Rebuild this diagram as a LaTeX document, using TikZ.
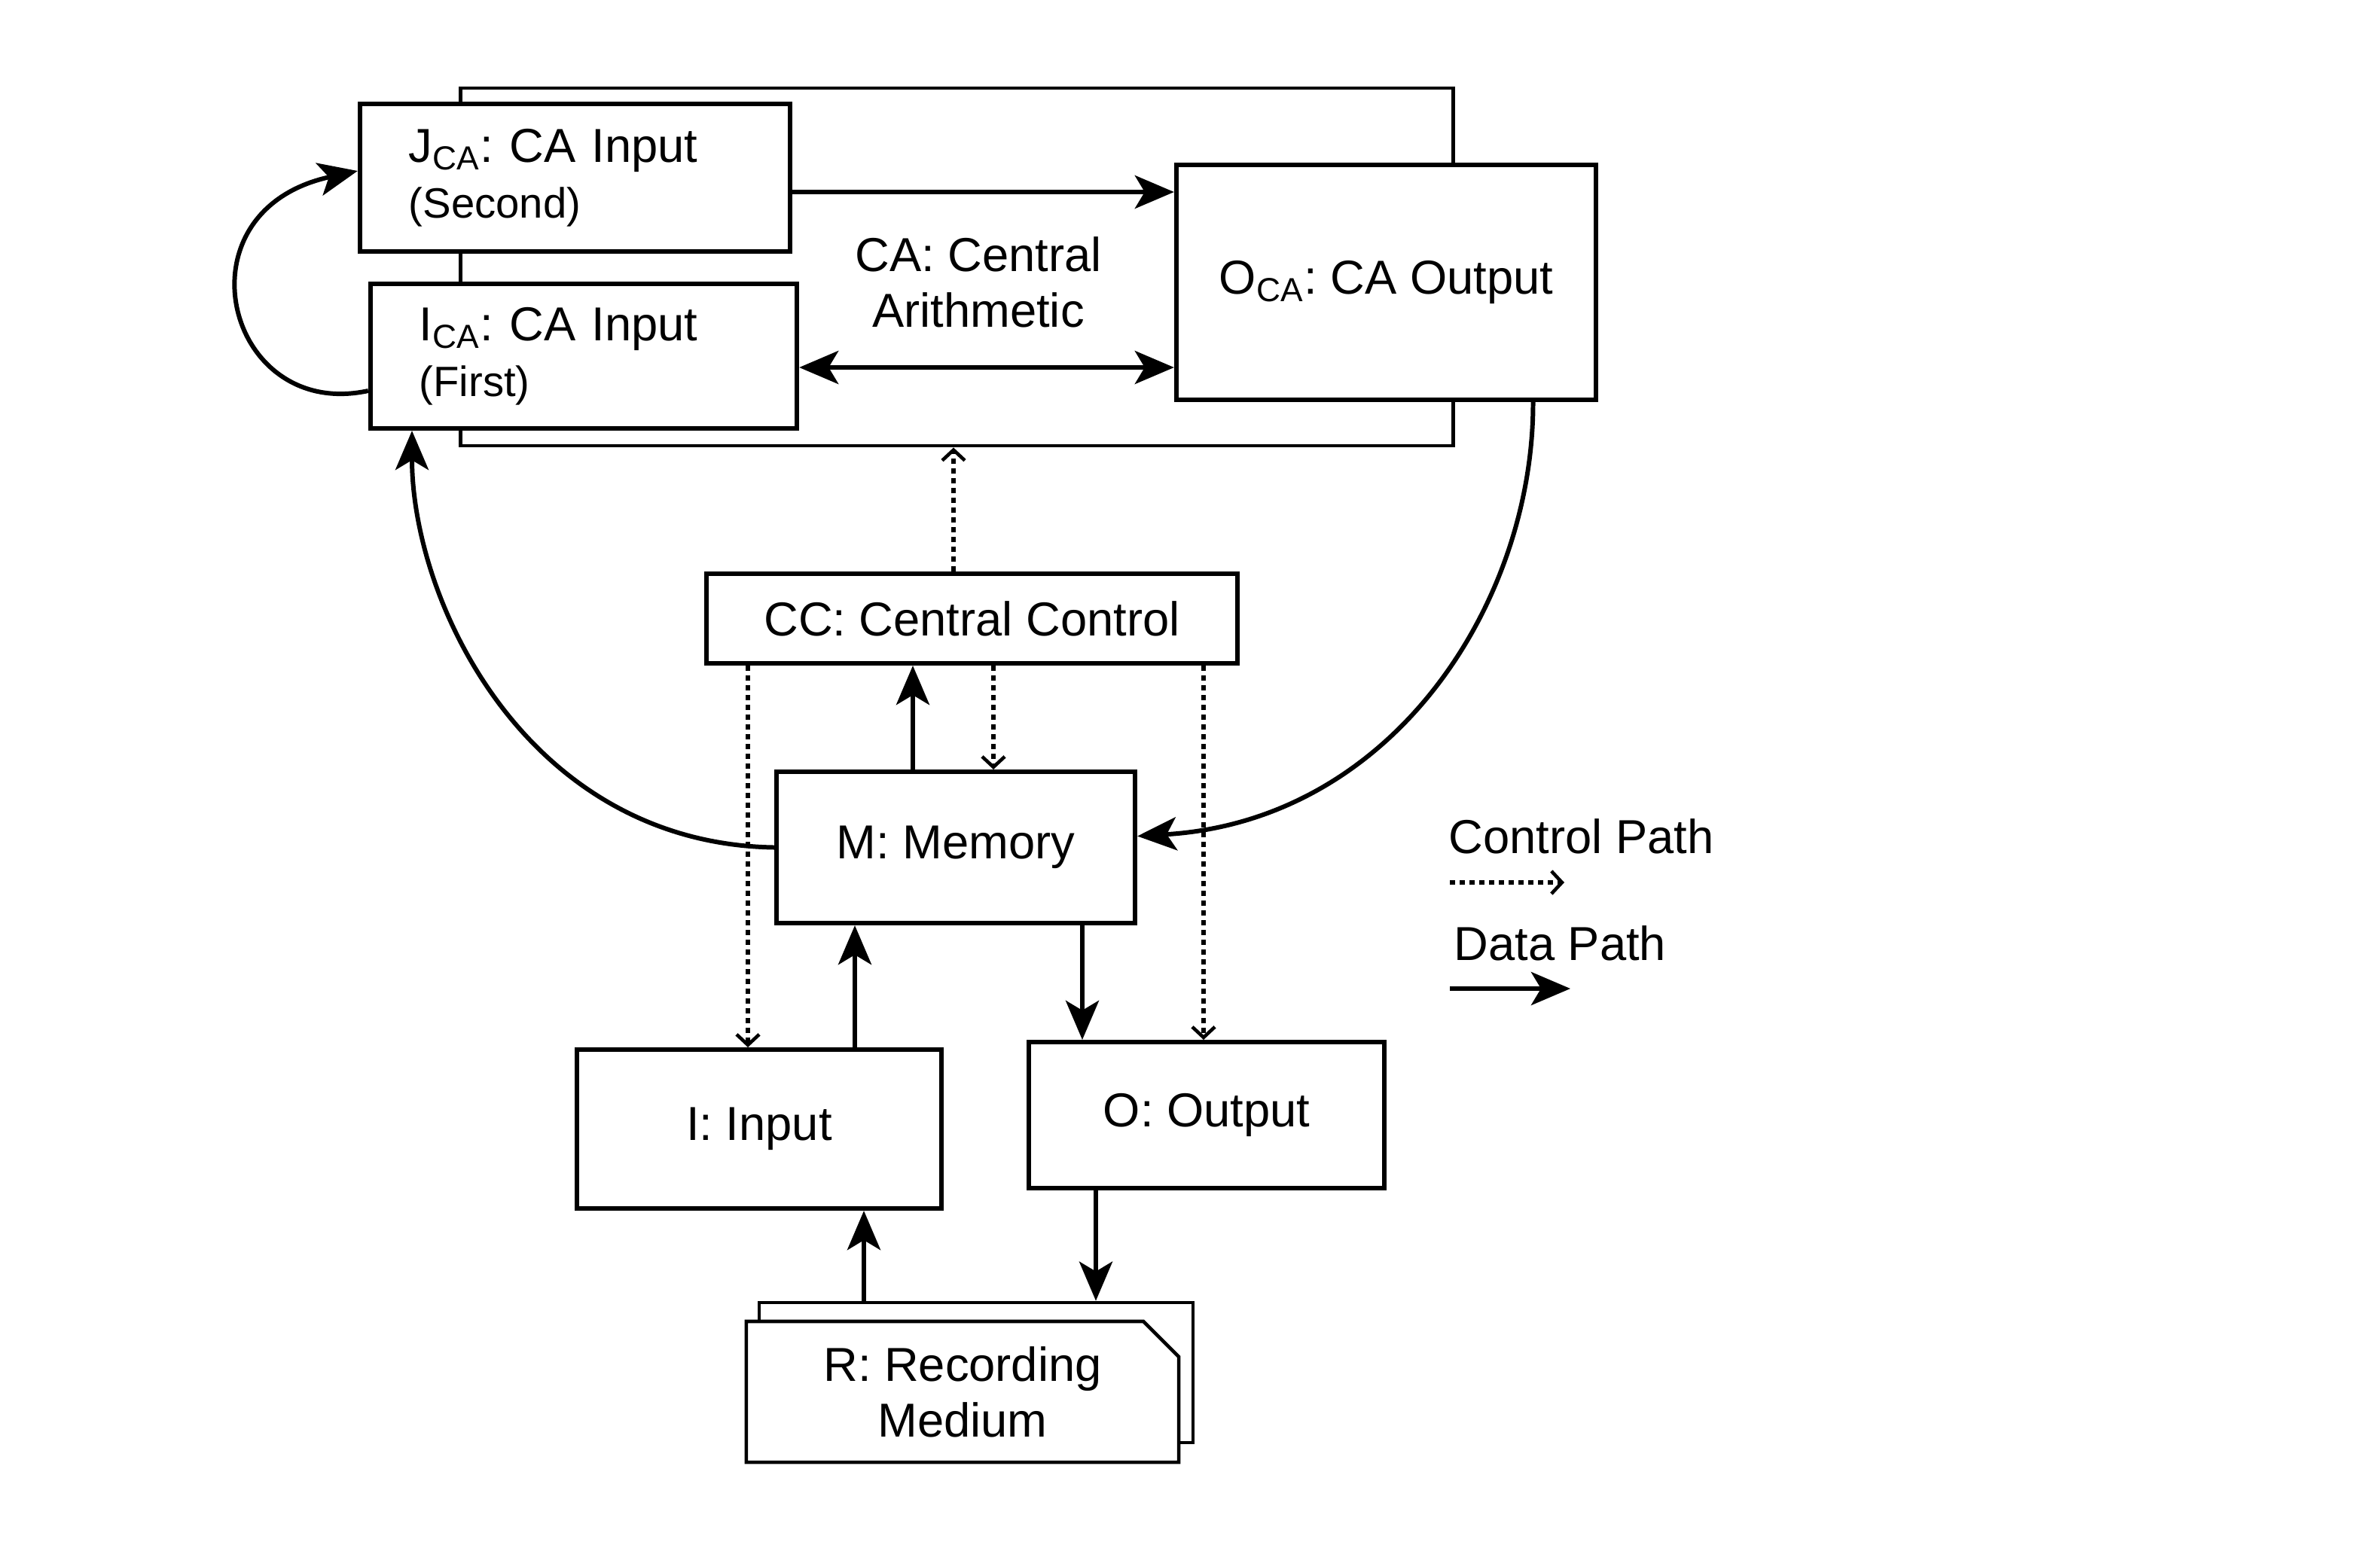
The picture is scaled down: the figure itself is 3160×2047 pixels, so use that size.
\documentclass[tikz,border=0pt]{standalone}
\usepackage{fontspec}
\setmainfont{Liberation Sans}
\usetikzlibrary{arrows.meta,calc,shapes.misc}
\frenchspacing
\begin{document}
\begin{tikzpicture}[x=0.01cm,y=-0.01cm,
  bigfont/.style={font=\fontsize{18}{21}\selectfont},
  box/.style={draw, line width=1.7pt, fill=white, inner sep=0pt, bigfont},
  >={Stealth[length=0.52cm,width=0.44cm,inset=0.13cm]},
  data/.style={line width=1.7pt, ->},
  data2/.style={line width=1.7pt, <->},
  ctrl/.style={line width=1.8pt, dash pattern=on 0.07cm off 0.06cm, -{Straight Barb[length=0.14cm,width=0.3cm,line width=1.3pt]}},
  medium/.style={box, line width=1.3pt, chamfered rectangle, chamfered rectangle corners=north east}
]
\useasboundingbox (0,0) rectangle (3160,2047);

% CA outer block
\node[box, line width=1.3pt, minimum width=13.17cm, minimum height=4.75cm] (CA) at (1270.5,354.5) {};
\node[bigfont, align=center] (CAt) at (1299,375) {CA: Central\\Arithmetic};

\node[box, minimum width=5.71cm, minimum height=1.96cm, text width=4.41cm, align=left, inner xsep=0.65cm] (J) at (763.5,236)
  {J\textsubscript{CA}: CA Input\\{\fontsize{16}{20}\selectfont (Second)}};
\node[box, minimum width=5.66cm, minimum height=1.92cm, text width=4.36cm, align=left, inner xsep=0.65cm] (IC) at (775,473)
  {I\textsubscript{CA}: CA Input\\{\fontsize{16}{20}\selectfont (First)}};
\node[box, minimum width=5.57cm, minimum height=3.12cm] (OC) at (1840.5,375) {O\textsubscript{CA}: CA Output};

\node[box, minimum width=7.05cm, minimum height=1.19cm] (CC) at (1290.5,821.5) {CC: Central Control};
\node[box, minimum width=4.76cm, minimum height=2.01cm] (M) at (1269,1125.5) {M: Memory};
\node[box, minimum width=4.84cm, minimum height=2.11cm] (In) at (1008,1499.5) {I: Input};
\node[box, minimum width=4.72cm, minimum height=1.94cm] (Out) at (1602,1481) {O: Output};

\node[medium, chamfered rectangle xsep=0.2cm, chamfered rectangle ysep=0.22cm, minimum width=5.76cm, minimum height=1.86cm] (Rb) at (1296,1823) {};
\node[medium, align=center, chamfered rectangle xsep=0.2cm, chamfered rectangle ysep=0.27cm, minimum width=5.74cm, minimum height=1.87cm] (R) at (1278,1848.5) {R: Recording\\Medium};

% CA internal data paths
\draw[data] ($(J.east)+(0,19)$) -- ($(OC.west)+(0,-120)$);
\draw[data2] ($(IC.east)+(0,15)$) -- ($(OC.west)+(0,113)$);
\draw[data] ($(IC.west)+(0,46)$) .. controls (300,560) and (230,280) .. ($(J.west)+(0,-9)$);

% curved data paths
\draw[data] (M.west) .. controls (700,1120) and (547,800) .. ($(IC.south)+(-228,0)$);
\draw[data] ($(OC.south)+(195,0)$) .. controls (2036,800) and (1850,1090) .. ($(M.east)+(0,-15)$);

% control paths
\coordinate (c1) at ($(CC.north)+(-24.5,0)$);
\draw[ctrl] (c1) -- (c1 |- CA.south);
\coordinate (m2) at ($(M.north)+(50,0)$);
\draw[ctrl] (m2 |- CC.south) -- (m2);
\coordinate (c2) at ($(In.north)+(-15,0)$);
\draw[ctrl] (c2 |- CC.south) -- (c2);
\coordinate (c3) at ($(Out.north)+(-4,0)$);
\draw[ctrl] (c3 |- CC.south) -- (c3);

% vertical data paths
\coordinate (m1) at ($(M.north)+(-57,0)$);
\draw[data] (m1) -- (m1 |- CC.south);
\coordinate (i1) at ($(In.north)+(127,0)$);
\draw[data] (i1) -- (i1 |- M.south);
\coordinate (o1) at ($(Out.north)+(-165,0)$);
\draw[data] (o1 |- M.south) -- (o1);
\coordinate (r1) at ($(Rb.north)+(-149,0)$);
\draw[data] (r1) -- (r1 |- In.south);
\coordinate (r2) at ($(Rb.north)+(159,0)$);
\draw[data] (r2 |- Out.south) -- (r2);

% legend
\node[bigfont, inner sep=0pt, anchor=base west] (LC) at (1923,1133) {Control Path};
\coordinate (lc1) at (1925,1172);
\coordinate (lc2) at (2077,1172);
\draw[ctrl] (lc1) -- (lc2);
\node[bigfont, inner sep=0pt, anchor=base west] (LD) at (1930,1275) {Data Path};
\coordinate (ld1) at (1925,1313);
\coordinate (ld2) at (2085,1313);
\draw[data] (ld1) -- (ld2);
\end{tikzpicture}
\end{document}
